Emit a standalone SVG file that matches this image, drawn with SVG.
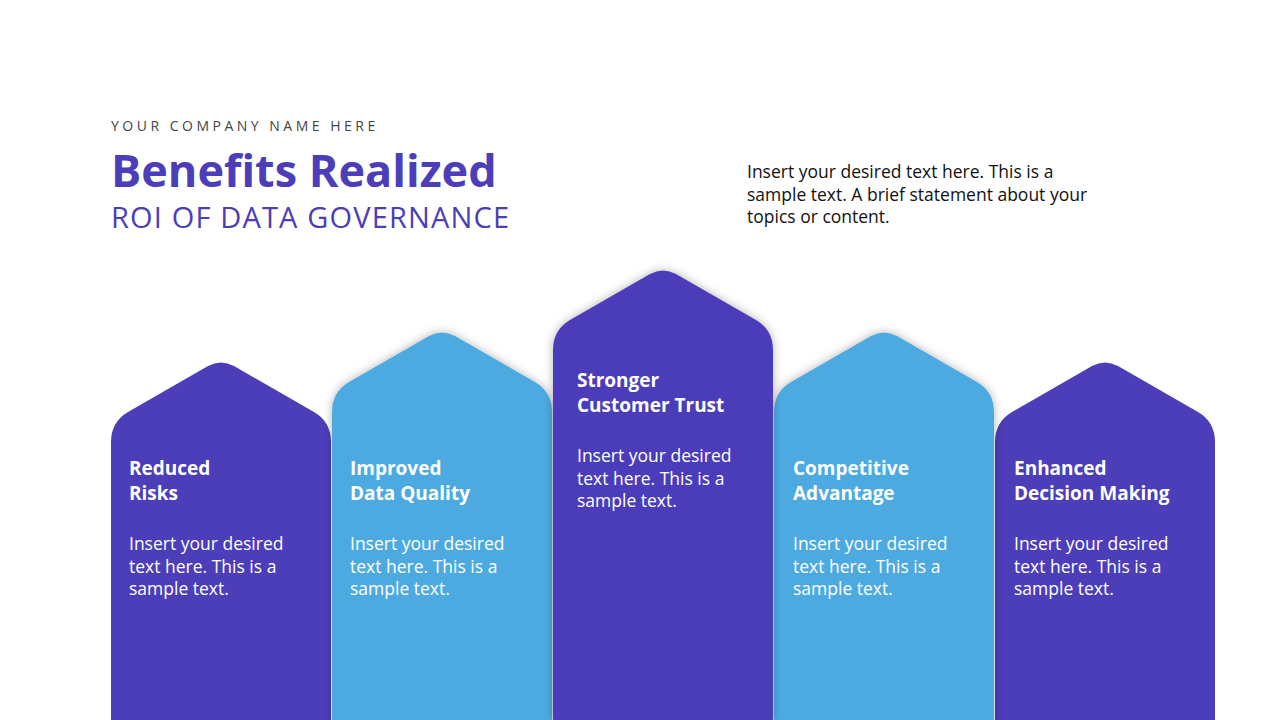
<svg xmlns="http://www.w3.org/2000/svg" width="1280" height="720" viewBox="0 0 1280 720">
<defs>
<style>
.p{fill:#4C3DB9}.b{fill:#4DAAE1}
.h{font-family:"Open Sans","Noto Sans",sans-serif;font-weight:bold;font-size:19px;fill:#fff}
.d{font-family:"Open Sans","Noto Sans",sans-serif;font-size:17.5px;fill:#fff}
</style>
<filter id="sh" x="-20%" y="-20%" width="140%" height="140%"><feDropShadow dx="0" dy="0" stdDeviation="5" flood-color="#000" flood-opacity="0.3"/></filter>
<path id="arr" d="M0,450 L0,80 Q0,60 17,50 L97,4 Q110,-3 123,4 L203,50 Q220,60 220,80 L220,450 Z"/>
</defs>
<rect width="1280" height="720" fill="#fff"/>
<text x="111" y="131" font-family="Open Sans,Noto Sans,sans-serif" font-size="14" letter-spacing="3.5" fill="#444">YOUR COMPANY NAME HERE</text>
<text x="111" y="187" font-family="Open Sans,Noto Sans,sans-serif" font-weight="bold" font-size="45" fill="#4C3DB9">Benefits Realized</text>
<text x="111" y="228" font-family="Open Sans,Noto Sans,sans-serif" font-size="29" textLength="398" fill="#4C3DB9">ROI OF DATA GOVERNANCE</text>
<text font-family="Open Sans,Noto Sans,sans-serif" font-size="17.5" fill="#111"><tspan x="747" y="178">Insert your desired text here. This is a</tspan><tspan x="747" y="201">sample text. A brief statement about your</tspan><tspan x="747" y="223">topics or content.</tspan></text>
<g id="n1"><use href="#arr" class="p" transform="translate(111,362)"/><text class="h"><tspan x="129" y="475">Reduced</tspan><tspan x="129" y="500">Risks</tspan></text><text class="d"><tspan x="129" y="550">Insert your desired</tspan><tspan x="129" y="573">text here. This is a</tspan><tspan x="129" y="595">sample text.</tspan></text></g>
<g id="n5"><use href="#arr" class="p" transform="translate(995,362)"/><text class="h"><tspan x="1014" y="475">Enhanced</tspan><tspan x="1014" y="500">Decision Making</tspan></text><text class="d"><tspan x="1014" y="550">Insert your desired</tspan><tspan x="1014" y="573">text here. This is a</tspan><tspan x="1014" y="595">sample text.</tspan></text></g>
<g id="n2"><use href="#arr" class="b" filter="url(#sh)" transform="translate(332,332)"/><text class="h"><tspan x="350" y="475">Improved</tspan><tspan x="350" y="500">Data Quality</tspan></text><text class="d"><tspan x="350" y="550">Insert your desired</tspan><tspan x="350" y="573">text here. This is a</tspan><tspan x="350" y="595">sample text.</tspan></text></g>
<g id="n4"><use href="#arr" class="b" filter="url(#sh)" transform="translate(774,332)"/><text class="h"><tspan x="793" y="475">Competitive</tspan><tspan x="793" y="500">Advantage</tspan></text><text class="d"><tspan x="793" y="550">Insert your desired</tspan><tspan x="793" y="573">text here. This is a</tspan><tspan x="793" y="595">sample text.</tspan></text></g>
<g id="n3"><use href="#arr" class="p" filter="url(#sh)" transform="translate(553,270)"/><text class="h"><tspan x="577" y="387">Stronger</tspan><tspan x="577" y="412">Customer Trust</tspan></text><text class="d"><tspan x="577" y="462">Insert your desired</tspan><tspan x="577" y="485">text here. This is a</tspan><tspan x="577" y="507">sample text.</tspan></text></g>
<g id="connectors"/>
</svg>
